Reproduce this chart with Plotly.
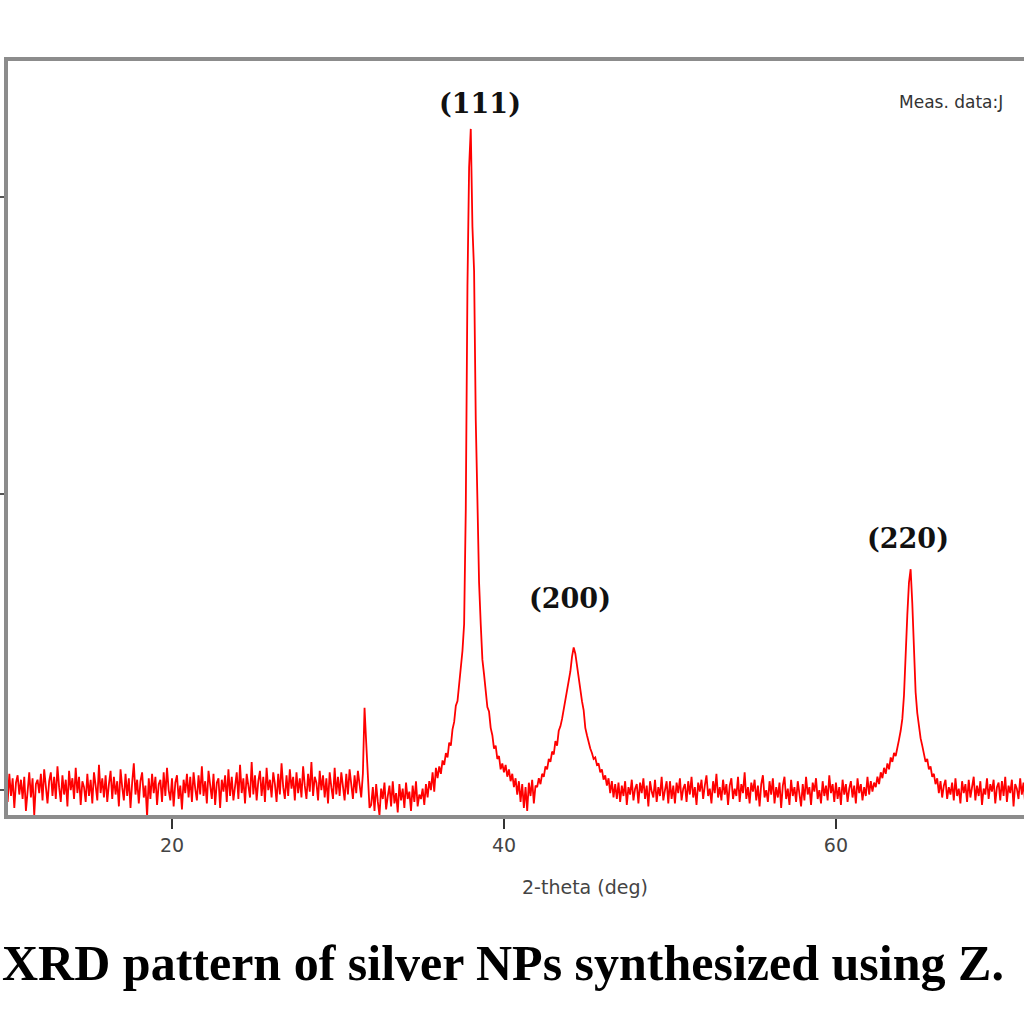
import plotly.graph_objects as go

# ---- data ----
scan_start = 10.0   # 2-theta of first point (deg)
scan_step = 0.1     # scan step (deg)

counts_10_20 = [30, -40, 55, -20, 40, -60, 25, 50, -15, 35,
                -30, 45, -70, 10, 60, -25, 40, -85, 20, 35,
                -10, 55, -35, 70, 5, -45, 30, 60, -20, 45,
                -30, 80, 10, -40, 50, -15, 35, -55, 65, 0,
                40, -30, 75, -10, 45, -50, 30, 10, -40, 55,
                -20, 35, -45, 60, 15, -35, 85, -10, 40, -25,
                50, -40, 20, 65, -30, 45, -15, 30, -55, 70,
                10, -35, 55, -20, 40, -60, 25, 90, -15, 35,
                -45, 30, 60, -25, 15, -90, 40, -30, 55, -10,
                45, -50, 20, 35, -40, 60, -20, 75, 0, -35]

counts_20_30 = [40, -55, 25, 50, -30, 15, -65, 35, -10, 55,
                -25, 45, -40, 60, 5, -35, 50, -15, 80, -20,
                30, -45, 65, 10, -30, 55, -50, 25, 40, -60,
                35, -5, 50, -40, 70, -20, 45, -35, 20, 60,
                -30, 85, -10, 40, -45, 55, 15, -25, 95, -15,
                50, -35, 30, 65, -20, 45, -40, 75, 0, 35,
                -25, 60, 20, -40, 55, -15, 90, 10, -30, 50,
                -20, 70, 5, 45, -35, 60, -10, 40, -25, 80,
                15, -30, 55, -5, 95, -20, 45, 25, -35, 65,
                0, 50, -25, 40, -45, 60, 10, -30, 75, -15]

counts_30_40 = [45, -20, 60, 5, -35, 55, -15, 70, 20, -30,
                50, -10, 65, 15, -25, 55, 278, 160, 30, -60,
                -50, 10, -70, 20, -40, -85, 5, -30, 25, -65,
                -20, 15, -55, 30, -45, -10, -75, 20, -35, 5,
                -60, 25, -30, -5, -70, 15, -40, 30, -55, -15,
                -30, 5, -50, 20, -25, 30, 0, 60, -5, 75,
                40, 80, 55, 100, 85, 125, 110, 160, 150, 205,
                230, 285, 300, 350, 410, 470, 560, 950, 1700, 2100,
                2230, 1900, 1750, 1250, 980, 700, 560, 440, 390, 330,
                280, 265, 210, 185, 140, 150, 105, 115, 70, 90]

counts_40_50 = [60, 85, 45, 70, 30, 55, 10, 40, -15, 30,
                -40, 20, -60, 10, -70, 25, -20, 35, -45, 15,
                10, 40, 20, 55, 45, 80, 70, 105, 95, 130,
                120, 165, 150, 200, 215, 240, 270, 300, 330, 370,
                400, 450, 481, 460, 420, 380, 330, 300, 270, 210,
                185, 160, 140, 125, 105, 110, 85, 90, 60, 70,
                35, 50, 15, 40, -10, 30, -25, 20, -30, 25,
                -40, 15, -20, 30, -50, 10, -15, 35, -35, 5,
                20, -45, 25, -10, 40, -30, 15, -55, 30, -5,
                -25, 35, -40, 10, -20, 45, -35, 0, 30, -45]

counts_50_60 = [30, -30, 15, -45, 25, -10, 40, -35, 5, 20,
                -40, 30, -15, 45, -25, 10, -50, 25, -5, 35,
                -30, 15, 50, -20, 5, -45, 30, -10, 55, -25,
                10, -35, 35, -15, 20, -50, 15, 40, -30, 5,
                -20, 45, -40, 20, -10, 60, -30, 10, -45, 25,
                -5, 35, -35, 15, -55, 20, 50, -25, 0, -40,
                30, -15, 40, -45, 10, -25, 25, -60, 15, 45,
                -30, 5, -50, 35, -20, 10, -40, 30, -10, -55,
                20, -35, 45, -15, 10, -50, 25, -5, 40, -30,
                0, -45, 30, -20, 15, -35, 50, -10, 20, -40]

counts_60_70 = [25, -30, 10, -50, 35, -15, 20, -40, 5, 30,
                -25, 15, -45, 40, -10, 20, -35, 10, -20, 45,
                -15, 30, -5, 25, 10, 45, 20, 60, 40, 75,
                55, 90, 70, 110, 95, 125, 115, 150, 170, 200,
                240, 320, 480, 590, 700, 745, 630, 450, 330, 260,
                215, 175, 150, 115, 95, 105, 70, 80, 45, 55,
                20, 40, -10, 30, -25, 15, 35, -30, 10, -15,
                25, -35, 40, -20, 5, -45, 30, -10, 20, -40,
                35, -25, 10, 45, -35, 15, -20, 30, -50, 5,
                -15, 40, -30, 20, -5, 35, -45, 10, 25, -35]

counts_70_72 = [30, -20, 45, -40, 15, -10, 35, -55, 20, 5, -30, 40, -15, 25, -45]

x_ticks = [20, 40, 60]
y_ticks = [0, 1000, 2000]
peak_labels = ["(111)", "(200)", "(220)"]

intensity = (counts_10_20 + counts_20_30 + counts_30_40 + counts_40_50 +
             counts_50_60 + counts_60_70 + counts_70_72)
two_theta = [round(scan_start + i * scan_step, 2) for i in range(len(intensity))]

# ---- layout geometry (pixels) ----
W, H = 1024, 1024
L, R, T, B = 8, 1024, 61, 815


def pxx(px):
    return (px - L) / (R - L)


def pxy(py):
    return (B - py) / (B - T)


fig = go.Figure()
fig.add_trace(go.Scatter(x=two_theta, y=intensity, mode="lines",
                         line=dict(color="#ff0000", width=1.8),
                         showlegend=False, hoverinfo="skip"))

axis_gray = "#8c8c8c"
fig.update_layout(
    width=W, height=H,
    margin=dict(l=L, r=W - R, t=T, b=H - B, pad=0),
    paper_bgcolor="white", plot_bgcolor="white",
    xaxis=dict(range=[10.12, 71.33], tickvals=x_ticks,
               ticktext=[str(v) for v in x_ticks],
               showgrid=False, zeroline=False,
               showline=True, mirror=True, linecolor=axis_gray, linewidth=4,
               ticks="outside", ticklen=10, tickwidth=2, tickcolor="#333333",
               tickfont=dict(family="DejaVu Sans", size=19, color="#444444")),
    yaxis=dict(range=[-84, 2459], tickvals=y_ticks,
               showticklabels=False, showgrid=False, zeroline=False,
               showline=True, mirror=False, linecolor=axis_gray, linewidth=4,
               ticks="outside", ticklen=6, tickwidth=2, tickcolor="#555555"),
)

label_font = dict(family="DejaVu Serif", size=27, color="#111111", weight="bold")
label_pos = [(480, 103), (570, 598), (908, 538)]
for text, (px, py) in zip(peak_labels, label_pos):
    fig.add_annotation(text=text, xref="paper", yref="paper", x=pxx(px), y=pxy(py),
                       xanchor="center", yanchor="middle", showarrow=False, font=label_font)

fig.add_annotation(text="Meas. data:J", xref="paper", yref="paper",
                   x=pxx(897), y=pxy(102), xanchor="left", yanchor="middle",
                   showarrow=False,
                   font=dict(family="DejaVu Sans", size=17, color="#333333"))

fig.add_annotation(text="2-theta (deg)", xref="paper", yref="paper",
                   x=pxx(585), y=pxy(887), xanchor="center", yanchor="middle",
                   showarrow=False,
                   font=dict(family="DejaVu Sans", size=19, color="#444444"))

fig.add_annotation(text="XRD pattern of silver NPs synthesized using Z. ",
                   xref="paper", yref="paper", x=pxx(0), y=pxy(963),
                   xanchor="left", yanchor="middle", showarrow=False,
                   font=dict(family="Liberation Serif", size=50, color="#000000",
                             weight="bold"))

fig.write_html("out.html")
